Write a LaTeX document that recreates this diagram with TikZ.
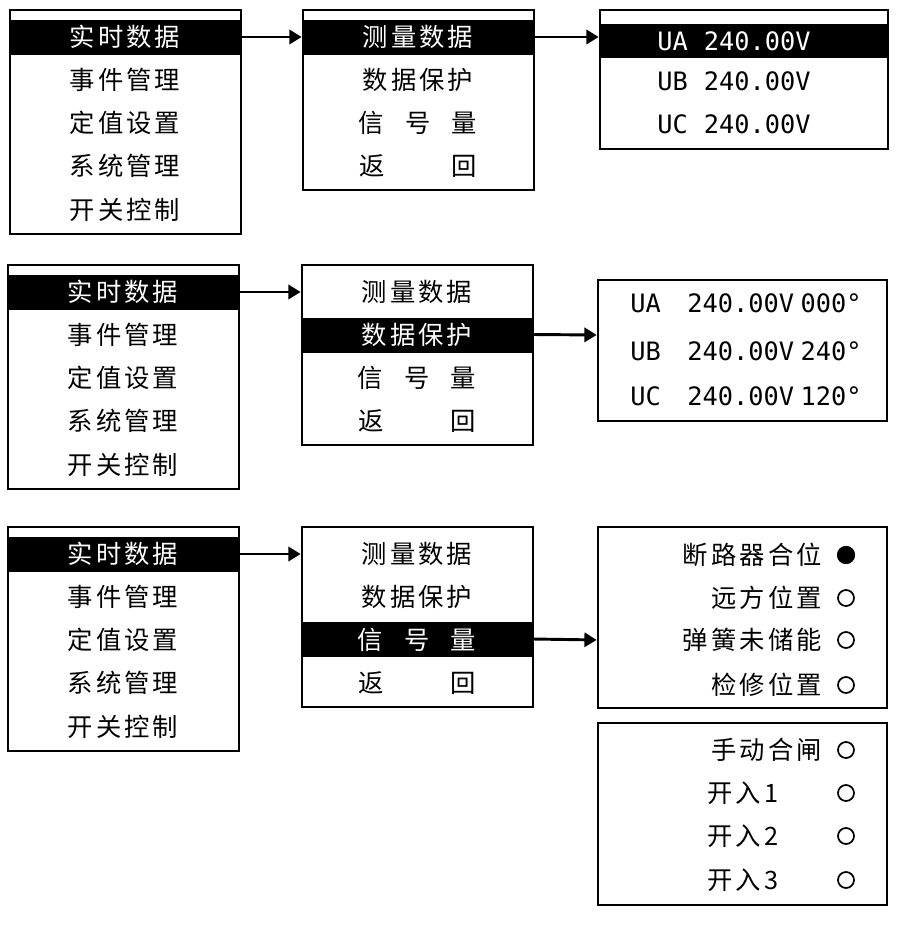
\documentclass[tikz,border=0pt]{standalone}
\usepackage{fontspec}
\newfontfamily\cjk[LetterSpace=12]{Noto Sans CJK SC}
\newfontfamily\mono{DejaVu Sans Mono}
\usetikzlibrary{positioning, arrows.meta, calc}

\begin{document}
\begin{tikzpicture}[
    x=0.75pt, y=-0.75pt,
    >=Triangle,
    % Styles
    panel/.style={ % Menu frame
        draw,
        line width=1.5pt,
        inner sep=0pt
    },
    bar/.style={ % Selected line
        fill=black,
        inner sep=0pt
    },
    item/.style={
        font=\cjk\fontsize{19}{19}\selectfont,
        inner sep=0pt
    },
    sel/.style={
        item,
        text=white
    },
    val/.style={
        font=\mono\fontsize{19}{19}\selectfont,
        inner sep=0pt
    },
    arrow/.style={
        ->,
        line width=2.2pt,
        shorten >=1pt
    },
    lamp/.style={
        circle,
        draw,
        line width=1.3pt,
        minimum size=12pt,
        inner sep=0pt
    }
]
    \useasboundingbox (0,0) rectangle (900,928);

    % Main menu, drawn three times
    \foreach \r/\x/\y in {1/10/10, 2/8/265, 3/8/527} {
        \draw[panel] (\x,\y) rectangle ++(231,224);
        \fill[bar] (\x,\y+10) rectangle ++(231,35);
        \node[sel] at (\x+115,\y+27) {实时数据};
        \node[item] at (\x+115,\y+70) {事件管理};
        \node[item] at (\x+115,\y+113) {定值设置};
        \node[item] at (\x+115,\y+156) {系统管理};
        \node[item] at (\x+115,\y+200) {开关控制};
        \coordinate (m\r) at (\x+231,\y+27);
    }

    % Sub menus
    \foreach \r/\x/\y/\s/\ca/\cb/\cc in {1/303/10/0/white/black/black, 2/302/265/1/black/white/black, 3/302/527/2/black/black/white} {
        \draw[panel] (\x,\y) rectangle ++(231,180);
        \fill[bar] (\x,{\y+10+\s*42.5}) rectangle ++(231,35);
        \node[item, text=\ca] at (\x+115,\y+27) {测量数据};
        \node[item, text=\cb] at (\x+115,\y+70) {数据保护};
        \node[item, text=\cc] at (\x+115,\y+113) {信\hspace{16pt}号\hspace{16pt}量};
        \node[item] at (\x+115,\y+156) {返\hspace{50pt}回};
        \coordinate (s\r) at (\x+231,{\y+27+\s*42.5});
        \coordinate (i\r) at (\x,\y+27);
    }

    % Measurement panel
    \draw[panel] (600,10) rectangle (888,149);
    \fill[bar] (600,24) rectangle (888,58);
    \node[val, text=white, anchor=west] (ua) at (657,41) {UA\hspace{12pt}240.00V};
    \node[val, anchor=west] (ub) at (657,81) {UB\hspace{12pt}240.00V};
    \node[val, anchor=west] (uc) at (657,124) {UC\hspace{12pt}240.00V};
    \coordinate (p1) at (600,37);

    % Protection panel
    \draw[panel] (598,280) rectangle (887,421);
    \foreach \n/\v/\a/\y in {a/UA/000/303, b/UB/240/351, c/UC/120/396} {
        \node[val, anchor=west] (pn\n) at (630,\y) {\v};
        \node[val, anchor=west] (pv\n) at (687,\y) {240.00V\hspace{5pt}\a\textdegree};
    }
    \coordinate (p2) at (598,335);

    % Signal panels
    \draw[panel] (598,527) rectangle (887,708);
    \draw[panel] (598,723) rectangle (887,905);
    \foreach \n/\t/\y in {a/断路器合位/555, b/远方位置/598, c/弹簧未储能/640, d/检修位置/685, e/手动合闸/750} {
        \node[item, anchor=east] (sg\n) at (822,\y) {\t};
        \node[lamp] (l\n) at (846,\y) {};
    }
    \foreach \n/\t/\y in {f/开入1/793, g/开入2/836, h/开入3/880} {
        \node[item, anchor=west] (sg\n) at (707,\y) {\t};
        \node[lamp] (l\n) at (846,\y) {};
    }
    \fill (la) circle (6.8pt);
    \coordinate (p3) at (598,640);

    % Arrows
    \foreach \r in {1,2,3} {
        \draw[arrow] (m\r) -- (i\r);
        \draw[arrow] (s\r) -- (p\r);
    }
\end{tikzpicture}
\end{document}
